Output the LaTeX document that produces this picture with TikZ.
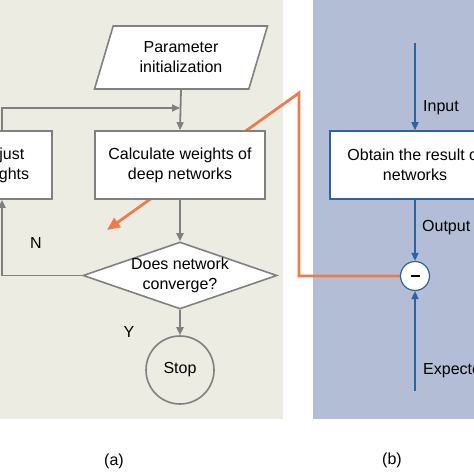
\documentclass[tikz,border=0pt]{standalone}
\usepackage{fontspec}
\setmainfont{Liberation Sans}
\usetikzlibrary{shapes.geometric,arrows.meta,backgrounds}

\definecolor{panelA}{HTML}{ECECE2}
\definecolor{panelB}{HTML}{B3BED6}
\definecolor{flowgray}{HTML}{808080}
\definecolor{flowblue}{HTML}{2E63A3}
\definecolor{errorange}{HTML}{EE7B4C}

\begin{document}
\begin{tikzpicture}[x=1pt, y=-1pt, inner sep=2pt,
    font=\fontsize{16}{20}\selectfont,
    box/.style={draw=flowgray, line width=1.6pt, fill=white, minimum width=170pt, minimum height=68pt, align=center},
    bluebox/.style={box, draw=flowblue},
    flow/.style={draw=flowgray, line width=1.8pt, -{Triangle[length=8pt, width=7pt]}},
    blueflow/.style={draw=flowblue, line width=1.5pt, -{Triangle[length=8pt, width=7pt]}},
    errline/.style={draw=errorange, line width=2.8pt, -{Triangle[length=13pt, width=11pt]}}]
    \useasboundingbox (0, 0) rectangle (474, 474);
    \clip (0, 0) rectangle (474, 474);
    % flow chart (a)
    \node[box, trapezium, trapezium left angle=62, trapezium right angle=118, trapezium stretches body,
          minimum width=173pt, minimum height=63pt] (param) at (181, 57.5) {Parameter\\initialization};
    \node[box] (calc) at (180, 165) {Calculate weights of\\deep networks};
    \node[box, minimum width=100pt] (adjust) at (2, 165) {Adjust\\weights};
    \node[box, diamond, minimum width=194pt, minimum height=67pt, inner sep=0pt,
          label={[align=center]center:Does network\\converge?}] (conv) at (180, 275.5) {};
    \node[draw=flowgray, line width=1.6pt, circle, minimum size=68pt] (stop) at (180, 370) {Stop};
    \coordinate (join) at (180, 108);
    \draw[flow] (param.south) -- (calc.north);
    \draw[flow] (adjust.north) |- (join);
    \draw[flow] (calc.south) -- (conv.north);
    \draw[flow] (conv.west) -| (adjust.south);
    \draw[flow] (conv.south) -- (stop.north);
    \node (no) at (36, 243) {N};
    \node (yes) at (129, 332) {Y};
    \node (capa) at (114, 461) {(a)};
    % error network (b)
    \node[bluebox] (result) at (415, 165) {Obtain the result of\\networks};
    \node[draw=flowblue, line width=1.2pt, fill=white, circle, minimum size=29pt, inner sep=0pt] (minus) at (415, 276) {\rule{9pt}{2.8pt}};
    \coordinate (input) at (415, 43);
    \coordinate (expected) at (415, 391);
    \draw[blueflow] (input) -- (result.north);
    \draw[blueflow] (result.south) -- (minus.north);
    \draw[blueflow] (expected) -- (minus.south);
    \node[anchor=west] (inlabel) at (421, 108) {Input};
    \node[anchor=west] (outlabel) at (420, 228) {Output};
    \node[anchor=west] (explabel) at (421, 370) {Expected output};
    \node (capb) at (392, 460) {(b)};
    % panels and error path underneath
    \coordinate (bendhigh) at (299, 93);
    \coordinate (errtip) at (107, 230);
    \begin{pgfonlayer}{background}
        \fill[panelA] (0, 0) rectangle (283, 419);
        \fill[panelB] (313, 0) rectangle (474, 419);
        \draw[errline] (minus.west) -| (bendhigh) -- (errtip);
    \end{pgfonlayer}
\end{tikzpicture}
\end{document}
